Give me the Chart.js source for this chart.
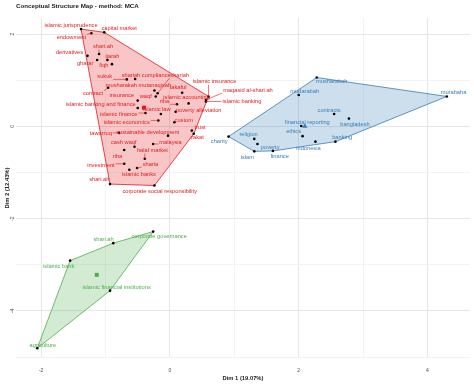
<!DOCTYPE html>
<html><head><meta charset="utf-8">
<script src="https://cdn.jsdelivr.net/npm/chart.js@4.4.1/dist/chart.umd.min.js"></script>
<style>html,body{margin:0;padding:0;background:#fff}#wrap{width:474px;height:384px}</style>
</head><body><div id="wrap"><canvas id="c" width="474" height="384"></canvas></div>
<script>
// ---------- data ----------
const chartTitle = 'Conceptual Structure Map - method: MCA';
const xTitle = 'Dim 1 (19.07%)';
const yTitle = 'Dim 2 (12.43%)';
const xTickValues = [-2, 0, 2, 4];
const yTickValues = [2, 0, -2, -4];

const redTerms = ['islamic jurisprudence','endowment','capital market','shari.ah','derivatives','ijarah','gharar','fiqh','sukuk','shariah compliance','musharakah mutanaqisah','shariah','contract','insurance','waqf','takaful','islamic insurance','maqasid al-shari.ah','islamic banking','islamic accounting','riba','islamic banking and finance','islamic law','poverty alleviation','islamic finance','islamic economics','custom','trust','zakat','tawarruq','sustainable development','malaysia','cash waqf','riba','halal market','investment','sharia','islamic banks','shari.ah','corporate social responsibility'];
const redX = [-1.38,-1.22,-1.02,-1.10,-1.28,-0.97,-1.13,-0.90,-0.67,-0.54,-0.24,-0.19,-0.96,-0.50,-0.22,0.19,0.60,0.56,0.56,0.29,0.11,-0.50,-0.14,0.09,-0.38,-0.18,0.07,0.34,0.37,-0.79,-0.03,-0.26,-0.55,-0.71,-0.39,-0.71,-0.51,-0.63,-0.93,-0.24];
const redY = [2.11,2.02,2.04,1.57,1.53,1.44,1.44,1.35,1.02,1.03,0.78,0.72,0.84,0.56,0.65,0.73,0.65,0.58,0.54,0.50,0.48,0.40,0.27,0.32,0.29,0.13,0.09,-0.09,-0.16,-0.14,-0.20,-0.38,-0.44,-0.51,-0.70,-0.81,-0.90,-0.94,-1.25,-1.28];

const blueTerms = ['musharakah','mudarabah','murabaha','contracts','bangladesh','financial reporting','ethics','charity','religion','poverty','islam','finance','indonesia','banking'];
const blueX = [2.28,2.00,4.30,2.55,2.78,2.04,2.06,0.91,1.31,1.36,1.31,1.60,2.26,2.57];
const blueY = [1.06,0.68,0.65,0.27,0.17,0.01,-0.21,-0.22,-0.27,-0.38,-0.54,-0.53,-0.33,-0.33];

const greenTerms = ['corporate governance','shari.ah','islamic bank','islamic financial institutions','agriculture'];
const greenX = [-0.26,-0.88,-1.55,-0.93,-2.06];
const greenY = [-2.28,-2.53,-2.91,-3.56,-4.81];

// ---------- label placement (layout only, px nudges like ggrepel) ----------
const redNudge = [[-10,-4],[-20,4],[15,-3.5],[4,-7.5],[-18,-3],[5,-4],[-12,3],[-8,1],[-22,-3],[11,-3.5],[-16,-5.5],[22,-18],[-15,6],[-16,-5],[-10,0],[-4,-5],[6,-14.7],[42,-9.5],[36,0],[-2,-5.6],[-12.6,-2.6],[-37,-4],[-4,-4.3],[23,-1.3],[-26.7,1],[-31.6,2],[9.3,-2.3],[8.3,-3],[3.3,3.7],[-18.3,0.3],[-20.3,-3.5],[17.4,-2],[-10.7,-4.4],[-6.7,6],[7.6,-8.3],[-23.3,1.7],[13.4,-4],[9.5,4.3],[-10.7,-4.3],[5.3,6]];
const blueNudge = [[15,4],[6,-3.5],[6.7,-4.4],[-5,-4],[6,5.6],[6,-3.7],[-9,-4.3],[-9.3,5.3],[-5.7,-4.3],[12.7,3],[-7,6],[6.7,5.4],[-7,6.3],[6.7,-4.7]];
const greenNudge = [[6,5],[-9.7,-4],[-11.4,5.7],[6.6,-3.7],[5.6,-3.3]];

// ---------- helpers ----------
const FONT = '"Liberation Sans", Arial, sans-serif';
const mean = a => a.reduce((s, v) => s + v, 0) / a.length;
function hull(xs, ys) {
  const p = xs.map((x, i) => ({x, y: ys[i]})).sort((a, b) => a.x - b.x || a.y - b.y);
  const cross = (o, a, b) => (a.x - o.x) * (b.y - o.y) - (a.y - o.y) * (b.x - o.x);
  const lower = [], upper = [];
  for (const q of p) { while (lower.length >= 2 && cross(lower[lower.length-2], lower[lower.length-1], q) <= 0) lower.pop(); lower.push(q); }
  for (let i = p.length - 1; i >= 0; i--) { const q = p[i]; while (upper.length >= 2 && cross(upper[upper.length-2], upper[upper.length-1], q) <= 0) upper.pop(); upper.push(q); }
  upper.pop(); lower.pop();
  const h = lower.concat(upper); h.push({x: h[0].x, y: h[0].y});
  return h;
}
function hullDataset(name, xs, ys, color, fill) {
  return {type: 'line', label: name + ' hull', data: hull(xs, ys), showLine: true, fill: 'shape',
    backgroundColor: fill, borderColor: color, borderWidth: 0.8, pointRadius: 0, tension: 0, order: 3};
}
function pointDataset(name, terms, xs, ys, color, nudges) {
  return {type: 'scatter', label: name, data: xs.map((x, i) => ({x, y: ys[i]})), pointRadius: 1.3,
    pointBackgroundColor: '#000', pointBorderWidth: 0, terms, labelColor: color, nudges, order: 2};
}
function centroidDataset(name, xs, ys, color, style, r) {
  return {type: 'scatter', label: name + ' centroid', data: [{x: mean(xs), y: mean(ys)}], pointStyle: style,
    pointRadius: r, pointBackgroundColor: color, pointBorderColor: color, pointBorderWidth: 0, order: 1};
}

const RED = '#e41a1c', BLUE = '#377eb8', GREEN = '#4daf4a';

const labelPlugin = {
  id: 'termLabels',
  afterDatasetsDraw(chart) {
    const ctx = chart.ctx;
    ctx.save();
    ctx.font = '5.7px ' + FONT;
    ctx.textAlign = 'center'; ctx.textBaseline = 'middle';
    chart.data.datasets.forEach((ds, i) => {
      if (!ds.terms) return;
      const meta = chart.getDatasetMeta(i);
      meta.data.forEach((pt, j) => {
        const [dx, dy] = ds.nudges[j];
        const lx = pt.x + dx, ly = pt.y + dy;
        const w = ctx.measureText(ds.terms[j]).width;
        const bx = Math.max(lx - w / 2 - 1, Math.min(pt.x, lx + w / 2 + 1));
        const by = Math.max(ly - 3, Math.min(pt.y, ly + 3));
        if (Math.hypot(bx - pt.x, by - pt.y) > 4) {
          ctx.strokeStyle = ds.labelColor; ctx.lineWidth = 0.6;
          ctx.beginPath(); ctx.moveTo(pt.x, pt.y); ctx.lineTo(bx, by); ctx.stroke();
        }
        ctx.fillStyle = ds.labelColor;
        ctx.fillText(ds.terms[j], lx, ly);
      });
    });
    // tick labels from the library scales
    const xs = chart.scales.x, ys = chart.scales.y;
    ctx.fillStyle = '#4d4d4d';
    ctx.font = '5px ' + FONT;
    xTickValues.forEach(v => ctx.fillText(String(v), xs.getPixelForValue(v), 371));
    yTickValues.forEach(v => {
      ctx.save(); ctx.translate(13, ys.getPixelForValue(v)); ctx.rotate(-Math.PI / 2);
      ctx.fillText(String(v), 0, 0); ctx.restore();
    });
    ctx.restore();
  }
};

const gridColor = c => (Math.round(c.tick.value) % 2 === 0 ? '#e6e6e6' : '#f3f3f3');

new Chart(document.getElementById('c'), {
  type: 'scatter',
  data: {
    datasets: [
      hullDataset('cluster 1', redX, redY, RED, 'rgba(228,26,28,0.25)'),
      hullDataset('cluster 2', blueX, blueY, BLUE, 'rgba(55,126,184,0.25)'),
      hullDataset('cluster 3', greenX, greenY, GREEN, 'rgba(77,175,74,0.25)'),
      pointDataset('cluster 1', redTerms, redX, redY, RED, redNudge),
      pointDataset('cluster 2', blueTerms, blueX, blueY, BLUE, blueNudge),
      pointDataset('cluster 3', greenTerms, greenX, greenY, GREEN, greenNudge),
      centroidDataset('cluster 1', redX, redY, RED, 'rect', 2.8),
      centroidDataset('cluster 2', blueX, blueY, BLUE, 'triangle', 3),
      centroidDataset('cluster 3', greenX, greenY, GREEN, 'rect', 2.8)
    ]
  },
  options: {
    responsive: false, animation: false,
    layout: {padding: {left: 0, right: 2, top: 0, bottom: 0}},
    plugins: {
      legend: {display: false}, tooltip: {enabled: false},
      title: {display: true, text: chartTitle, align: 'start', fullSize: false, color: '#222',
        font: {family: FONT, size: 6.2, weight: 'bold'}, padding: {top: 3, bottom: 7.6}}
    },
    scales: {
      x: {type: 'linear', min: -2.39, max: 4.66,
        ticks: {display: false, stepSize: 1, includeBounds: false},
        grid: {color: gridColor, lineWidth: 1, drawTicks: false}, border: {display: false},
        title: {display: true, text: xTitle, color: '#222', font: {family: FONT, size: 5.8, weight: 'bold'}, padding: {top: 0, bottom: 2.5}},
        afterFit: s => { s.height = 26; }},
      y: {type: 'linear', min: -5.02, max: 2.35,
        ticks: {display: false, stepSize: 1, includeBounds: false},
        grid: {color: gridColor, lineWidth: 1, drawTicks: false}, border: {display: false},
        title: {display: true, text: yTitle, color: '#222', font: {family: FONT, size: 5.8, weight: 'bold'}, padding: {top: 3.5, bottom: 0}},
        afterFit: s => { s.width = 16; }}
    }
  },
  plugins: [labelPlugin]
});
</script></body></html>
